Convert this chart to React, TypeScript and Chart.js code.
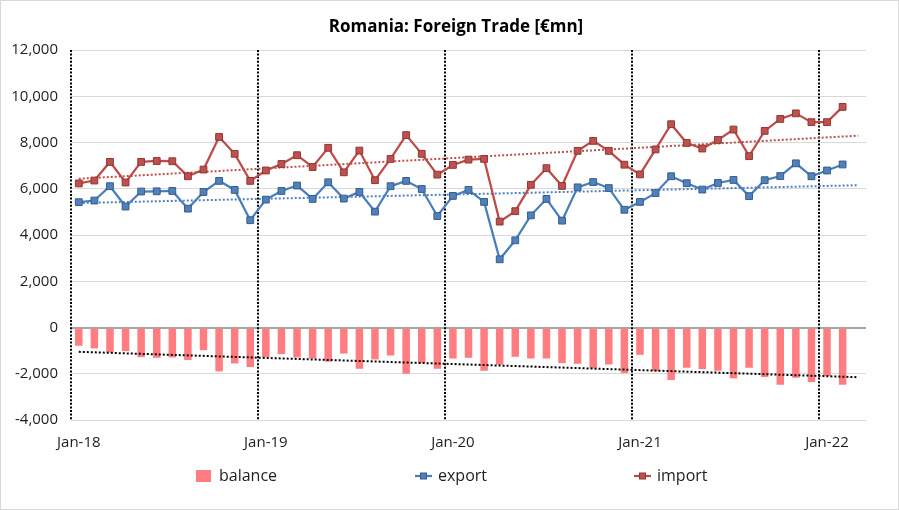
import React, { useEffect, useRef } from 'react';
import { Chart, registerables } from 'chart.js';

Chart.register(...registerables);

const TITLE = 'Romania: Foreign Trade [€mn]';
const FONT = "'Open Sans', sans-serif";

const months: string[] = [
  'Jan-18', 'Feb-18', 'Mar-18', 'Apr-18', 'May-18', 'Jun-18', 'Jul-18', 'Aug-18', 'Sep-18', 'Oct-18', 'Nov-18', 'Dec-18',
  'Jan-19', 'Feb-19', 'Mar-19', 'Apr-19', 'May-19', 'Jun-19', 'Jul-19', 'Aug-19', 'Sep-19', 'Oct-19', 'Nov-19', 'Dec-19',
  'Jan-20', 'Feb-20', 'Mar-20', 'Apr-20', 'May-20', 'Jun-20', 'Jul-20', 'Aug-20', 'Sep-20', 'Oct-20', 'Nov-20', 'Dec-20',
  'Jan-21', 'Feb-21', 'Mar-21', 'Apr-21', 'May-21', 'Jun-21', 'Jul-21', 'Aug-21', 'Sep-21', 'Oct-21', 'Nov-21', 'Dec-21',
  'Jan-22', 'Feb-22', 'Mar-22',
];

const exportValues: number[] = [
  5420, 5490, 6110, 5230, 5880, 5890, 5905, 5140, 5860, 6340, 5950, 4640,
  5530, 5905, 6140, 5560, 6280, 5575, 5860, 5010, 6110, 6340, 5990, 4820,
  5690, 5950, 5430, 2950, 3770, 4850, 5560, 4620, 6060, 6290, 6030, 5090,
  5430, 5810, 6540, 6240, 5965, 6250, 6380, 5680, 6370, 6550, 7100, 6540,
  6790, 7050,
];

const importValues: number[] = [
  6230, 6355, 7160, 6270, 7160, 7200, 7190, 6540, 6830, 8240, 7510, 6340,
  6790, 7070, 7450, 6940, 7770, 6710, 7650, 6370, 7290, 8320, 7510, 6610,
  7030, 7260, 7290, 4580, 5030, 6170, 6890, 6120, 7640, 8070, 7640, 7040,
  6620, 7700, 8790, 7980, 7740, 8110, 8560, 7410, 8500, 9020, 9260, 8880,
  8880, 9540,
];

const balanceValues: number[] = [
  -790, -905, -1080, -1020, -1280, -1310, -1295, -1410, -980, -1900, -1555, -1710,
  -1280, -1150, -1295, -1340, -1480, -1125, -1785, -1380, -1210, -2000, -1530, -1785,
  -1340, -1310, -1870, -1610, -1265, -1340, -1340, -1540, -1570, -1770, -1600, -1970,
  -1180, -1885, -2270, -1740, -1800, -1870, -2200, -1740, -2140, -2475, -2170, -2360,
  -2100, -2475,
];

const yTicks: number[] = [-4000, -2000, 0, 2000, 4000, 6000, 8000, 10000, 12000];

const COLORS = {
  bar: '#ff7c80',
  exportLine: '#4a7ebb',
  exportFill: '#4f81bd',
  exportBorder: '#385d8a',
  importLine: '#be4b48',
  importFill: '#c0504d',
  importBorder: '#8c3836',
  text: '#1e1e1e',
  grid: '#d9d9d9',
  zero: '#a6a6a6',
};

// least-squares linear trendline, drawn from first category to last category
function trendline(values: number[], n: number): (number | null)[] {
  const m = values.length;
  let sx = 0, sy = 0, sxx = 0, sxy = 0;
  values.forEach((y, x) => { sx += x; sy += y; sxx += x * x; sxy += x * y; });
  const b = (m * sxy - sx * sy) / (m * sxx - sx * sx);
  const a = (sy - b * sx) / m;
  const out: (number | null)[] = new Array(n).fill(null);
  out[0] = a;
  out[n - 1] = a + b * (n - 1);
  return out;
}

const janLinesPlugin = {
  id: 'janLines',
  beforeDatasetsDraw(chart: any) {
    const xs = chart.scales.x;
    const { top, bottom } = chart.chartArea;
    const ctx = chart.ctx;
    const step = xs.getPixelForValue(1) - xs.getPixelForValue(0);
    ctx.save();
    ctx.strokeStyle = '#000';
    ctx.lineWidth = 2;
    ctx.setLineDash([2, 1.6]);
    months.forEach((l, i) => {
      if (l.startsWith('Jan')) {
        const px = Math.round(xs.getPixelForValue(i) - step / 2);
        ctx.beginPath();
        ctx.moveTo(px, top);
        ctx.lineTo(px, bottom);
        ctx.stroke();
      }
    });
    ctx.restore();
  },
};

const decorPlugin = {
  id: 'decor',
  afterDraw(chart: any) {
    const ctx = chart.ctx;
    const w = chart.width;
    const h = chart.height;
    ctx.save();
    // chart border
    ctx.strokeStyle = '#d9d9d9';
    ctx.lineWidth = 1;
    ctx.strokeRect(0.5, 0.5, w - 1, h - 1);
    // title
    ctx.fillStyle = '#000';
    ctx.font = `bold 17px ${FONT}`;
    ctx.textAlign = 'center';
    ctx.textBaseline = 'middle';
    ctx.fillText(TITLE, 456, 27);
    // legend
    const ly = 476;
    ctx.font = `16px ${FONT}`;
    ctx.textAlign = 'left';
    ctx.fillStyle = COLORS.bar;
    ctx.fillRect(196, 470, 15, 12);
    ctx.fillStyle = COLORS.text;
    ctx.fillText('balance', 219, ly);

    const drawLineItem = (x0: number, line: string, fill: string, border: string, text: string) => {
      ctx.strokeStyle = line;
      ctx.lineWidth = 2.25;
      ctx.beginPath();
      ctx.moveTo(x0, ly);
      ctx.lineTo(x0 + 17, ly);
      ctx.stroke();
      ctx.fillStyle = fill;
      ctx.fillRect(x0 + 5.5, ly - 3, 6, 6);
      ctx.strokeStyle = border;
      ctx.lineWidth = 1;
      ctx.strokeRect(x0 + 5.5, ly - 3, 6, 6);
      ctx.fillStyle = COLORS.text;
      ctx.fillText(text, x0 + 23, ly);
    };
    drawLineItem(415, COLORS.exportLine, COLORS.exportFill, COLORS.exportBorder, 'export');
    drawLineItem(634, COLORS.importLine, COLORS.importFill, COLORS.importBorder, 'import');
    ctx.restore();
  },
};

export default function App() {
  const canvasRef = useRef<HTMLCanvasElement | null>(null);

  useEffect(() => {
    document.body.style.margin = '0';
    const canvas = canvasRef.current;
    if (!canvas) return;
    const n = months.length;
    const chart = new Chart(canvas, {
      type: 'bar',
      data: {
        labels: months,
        datasets: [
          {
            type: 'bar',
            label: 'balance',
            data: balanceValues,
            backgroundColor: COLORS.bar,
            borderWidth: 0,
            barPercentage: 0.48,
            categoryPercentage: 1,
            order: 5,
          } as any,
          {
            type: 'line',
            label: 'balance trend',
            data: trendline(balanceValues, n),
            borderColor: '#000',
            borderWidth: 2,
            borderDash: [2, 2],
            pointRadius: 0,
            spanGaps: true,
            order: 3,
          },
          {
            type: 'line',
            label: 'export trend',
            data: trendline(exportValues, n),
            borderColor: COLORS.exportFill,
            borderWidth: 2,
            borderDash: [2, 2],
            pointRadius: 0,
            spanGaps: true,
            order: 3,
          },
          {
            type: 'line',
            label: 'import trend',
            data: trendline(importValues, n),
            borderColor: COLORS.importFill,
            borderWidth: 2,
            borderDash: [2, 2],
            pointRadius: 0,
            spanGaps: true,
            order: 3,
          },
          {
            type: 'line',
            label: 'export',
            data: exportValues,
            borderColor: COLORS.exportLine,
            borderWidth: 2.25,
            pointStyle: 'rect',
            pointRadius: 4.8,
            pointBackgroundColor: COLORS.exportFill,
            pointBorderColor: COLORS.exportBorder,
            pointBorderWidth: 1,
            tension: 0,
            order: 1,
          },
          {
            type: 'line',
            label: 'import',
            data: importValues,
            borderColor: COLORS.importLine,
            borderWidth: 2.25,
            pointStyle: 'rect',
            pointRadius: 4.8,
            pointBackgroundColor: COLORS.importFill,
            pointBorderColor: COLORS.importBorder,
            pointBorderWidth: 1,
            tension: 0,
            order: 1,
          },
        ],
      },
      options: {
        responsive: false,
        animation: false,
        devicePixelRatio: 1,
        layout: { padding: { top: 50, right: 33, left: 0, bottom: 0 } },
        plugins: {
          legend: { display: false },
          title: { display: false },
          tooltip: { enabled: false },
        },
        scales: {
          x: {
            type: 'category',
            offset: true,
            grid: { display: false, offset: true },
            border: { display: false },
            ticks: {
              autoSkip: false,
              maxRotation: 0,
              minRotation: 0,
              padding: 6,
              color: COLORS.text,
              font: { family: FONT, size: 15 },
              callback: (_v: any, i: number) => (months[i].startsWith('Jan') ? months[i] : ''),
            },
            afterFit: (scale: any) => { scale.height = 90; },
          },
          y: {
            min: yTicks[0],
            max: yTicks[yTicks.length - 1],
            afterBuildTicks: (scale: any) => { scale.ticks = yTicks.map((v) => ({ value: v })); },
            grid: {
              drawTicks: false,
              color: (c: any) => (c.tick && c.tick.value === 0 ? COLORS.zero : COLORS.grid),
              lineWidth: (c: any) => (c.tick && c.tick.value === 0 ? 2 : 1),
            },
            border: { display: false },
            ticks: {
              padding: 13,
              color: COLORS.text,
              font: { family: FONT, size: 15 },
              callback: (v: any) => Number(v).toLocaleString('en-US'),
            },
            afterFit: (scale: any) => { scale.width = 71; },
          },
        },
      },
      plugins: [janLinesPlugin, decorPlugin],
    });
    return () => chart.destroy();
  }, []);

  return (
    <div style={{ width: 899, height: 510, background: '#fff' }}>
      <canvas ref={canvasRef} width={899} height={510} style={{ display: 'block' }} />
    </div>
  );
}
